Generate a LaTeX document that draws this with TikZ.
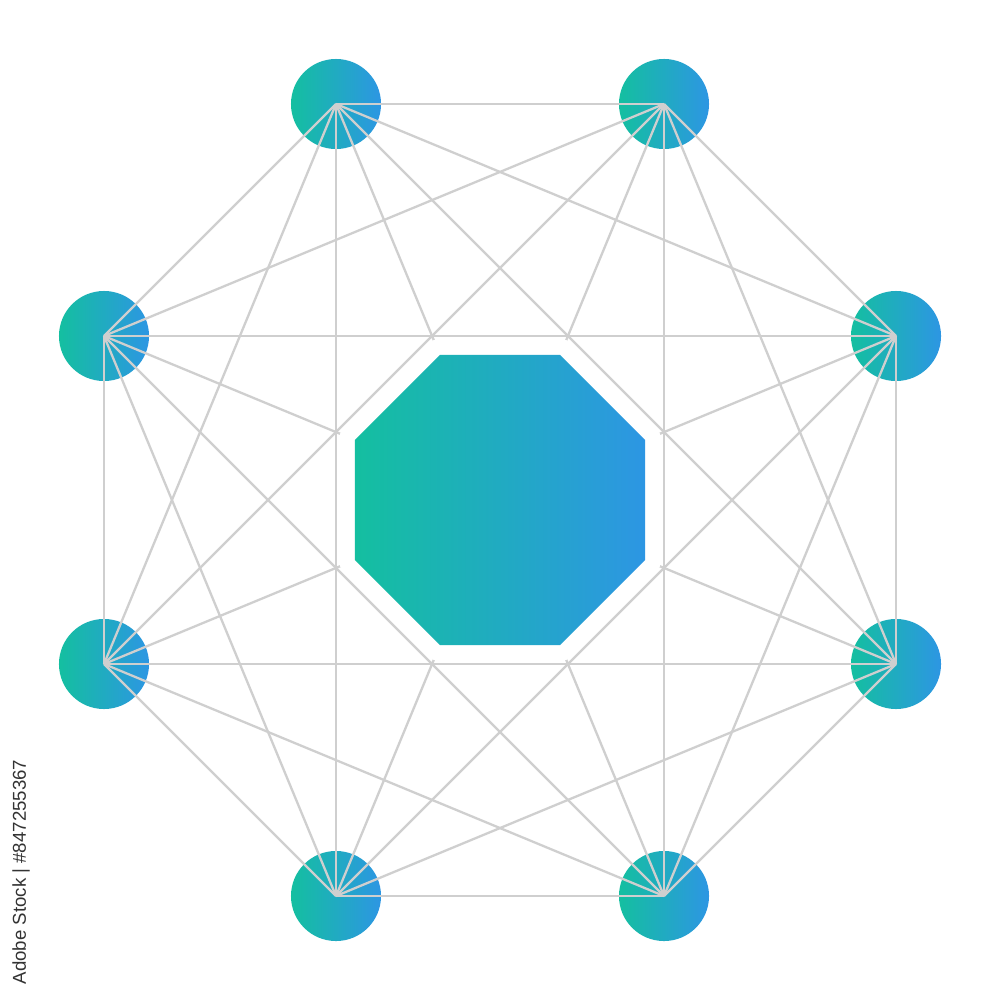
\documentclass[tikz,border=0pt]{standalone}
\usepackage{fontspec}
\setmainfont{Liberation Sans}
\usetikzlibrary{shapes.geometric}
\definecolor{cgreen}{HTML}{14BFA0}
\definecolor{cblue}{HTML}{2D96E3}
\definecolor{edgegray}{HTML}{CFCFCF}
\tikzset{
  vnode/.style={circle, minimum size=0.9cm, inner sep=0pt, left color=cgreen, right color=cblue, draw=none},
  link/.style={draw=edgegray, line width=0.65pt},
  hub/.style={regular polygon, regular polygon sides=8, minimum size=3.139cm, inner sep=0pt},
}
\begin{document}
\begin{tikzpicture}[x=0.01cm,y=-0.01cm]
\useasboundingbox (0,0) rectangle (1000,1000);
\fill[white] (0,0) rectangle (1000,1000);
\node[vnode] (n1) at (336,104) {};
\node[vnode] (n2) at (664,104) {};
\node[vnode] (n3) at (896,336) {};
\node[vnode] (n4) at (896,664) {};
\node[vnode] (n5) at (664,896) {};
\node[vnode] (n6) at (336,896) {};
\node[vnode] (n7) at (104,664) {};
\node[vnode] (n8) at (104,336) {};
\foreach \a/\b in {1/2,1/3,1/4,1/5,1/6,1/7,1/8,2/3,2/4,2/5,2/6,2/7,2/8,3/4,3/5,3/6,3/7,3/8,4/5,4/6,4/7,4/8,5/6,5/7,5/8,6/7,6/8,7/8}
  \draw[link] (n\a.center) -- (n\b.center);
\node[hub, draw=white, fill=white, line width=0.3cm] (mask) at (500,500) {};
\node[hub, left color=cgreen, right color=cblue] (center) at (500,500) {};
\node[rotate=90, text=black!80, font=\fontsize{5.3pt}{6pt}\selectfont, anchor=center] (tag) at (21,872) {Adobe Stock | \#847255367};
\end{tikzpicture}
\end{document}
